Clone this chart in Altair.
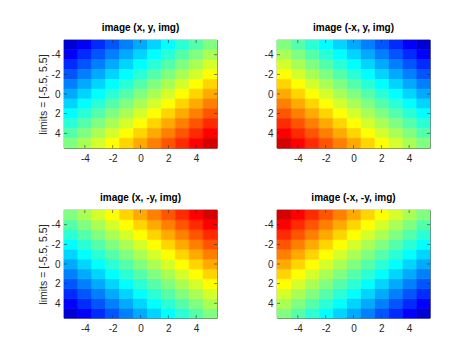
import altair as alt
import pandas as pd

# data (Octave demo: img = 1 ./ hilb (11), x = y = -5:5, colormap jet(21))
xs = [-5, -4, -3, -2, -1, 0, 1, 2, 3, 4, 5]
ys = [-5, -4, -3, -2, -1, 0, 1, 2, 3, 4, 5]
img = [
    [1, 2, 3, 4, 5, 6, 7, 8, 9, 10, 11],
    [2, 3, 4, 5, 6, 7, 8, 9, 10, 11, 12],
    [3, 4, 5, 6, 7, 8, 9, 10, 11, 12, 13],
    [4, 5, 6, 7, 8, 9, 10, 11, 12, 13, 14],
    [5, 6, 7, 8, 9, 10, 11, 12, 13, 14, 15],
    [6, 7, 8, 9, 10, 11, 12, 13, 14, 15, 16],
    [7, 8, 9, 10, 11, 12, 13, 14, 15, 16, 17],
    [8, 9, 10, 11, 12, 13, 14, 15, 16, 17, 18],
    [9, 10, 11, 12, 13, 14, 15, 16, 17, 18, 19],
    [10, 11, 12, 13, 14, 15, 16, 17, 18, 19, 20],
    [11, 12, 13, 14, 15, 16, 17, 18, 19, 20, 21],
]
ticks = [-4, -2, 0, 2, 4]
titles = ["image (x, y, img)", "image (-x, y, img)", "image (x, -y, img)", "image (-x, -y, img)"]
flips = [(1, 1), (-1, 1), (1, -1), (-1, -1)]
ylabels = ["limits = [-5.5, 5.5]", "", "limits = [-5.5, 5.5]", ""]

jet21 = ["#0000d5", "#0000ff", "#002bff", "#0055ff", "#0080ff", "#00aaff", "#00d5ff",
         "#00ffff", "#2bffd5", "#55ffaa", "#80ff80", "#aaff55", "#d5ff2b", "#ffff00",
         "#ffd500", "#ffaa00", "#ff8000", "#ff5500", "#ff2b00", "#ff0000", "#d50000"]

W, H = 153, 108
FONT = "Liberation Sans"
TXT = "#262626"

tick_df = pd.DataFrame({"t": ticks})


def panel(k):
    sx, sy = flips[k]
    rows = []
    for i, yv in enumerate(ys):
        for j, xv in enumerate(xs):
            X = sx * xv
            Y = sy * yv
            rows.append({"x0": X - 0.5, "x1": X + 0.5, "y0": Y - 0.5, "y1": Y + 0.5, "v": img[i][j]})
    df = pd.DataFrame(rows)
    xscale = alt.Scale(domain=[-5.5, 5.5], nice=False, zero=False)
    yscale = alt.Scale(domain=[-5.5, 5.5], nice=False, zero=False, reverse=True)
    common = dict(values=ticks, ticks=False, domain=False, grid=False, labelOverlap=False,
                  labelExpr="'' + datum.value", labelFont=FONT, labelFontSize=10, labelColor=TXT)
    if ylabels[k]:
        yaxis = alt.Axis(title=ylabels[k], titleFont=FONT, titleFontSize=10.5,
                         titleFontWeight="normal", titleColor=TXT, titlePadding=3,
                         labelPadding=4, **common)
    else:
        yaxis = alt.Axis(title=None, labelPadding=4, **common)
    xaxis = alt.Axis(title=None, labelPadding=5, **common)
    cscale = alt.Scale(domain=list(range(1, 22)), range=jet21)
    rect = alt.Chart(df).mark_rect(strokeWidth=0.6).encode(
        x=alt.X("x0:Q", scale=xscale, axis=xaxis),
        x2="x1:Q",
        y=alt.Y("y0:Q", scale=yscale, axis=yaxis),
        y2="y1:Q",
        color=alt.Color("v:O", scale=cscale, legend=None),
        stroke=alt.Stroke("v:O", scale=cscale, legend=None),
    )
    tb = alt.Chart(tick_df).mark_tick(orient="vertical", size=6, color=TXT, thickness=0.8, clip=True)
    tl = alt.Chart(tick_df).mark_tick(orient="horizontal", size=6, color=TXT, thickness=0.8, clip=True)
    t_bottom = tb.encode(x=alt.X("t:Q", scale=xscale, axis=xaxis), y=alt.value(H))
    t_top = tb.encode(x=alt.X("t:Q", scale=xscale, axis=xaxis), y=alt.value(0))
    t_left = tl.encode(y=alt.Y("t:Q", scale=yscale, axis=yaxis), x=alt.value(0))
    t_right = tl.encode(y=alt.Y("t:Q", scale=yscale, axis=yaxis), x=alt.value(W))
    return alt.layer(rect, t_bottom, t_top, t_left, t_right).properties(
        width=W, height=H,
        title=alt.Title(titles[k], font=FONT, fontSize=10, fontWeight="bold", color="#000000", offset=7),
    )


row1 = alt.hconcat(panel(0), panel(1), spacing=60, bounds="flush")
row2 = alt.hconcat(panel(2), panel(3), spacing=60, bounds="flush")
chart = alt.vconcat(row1, row2, spacing=170, bounds="flush").properties(
    padding={"left": 37, "top": 22, "right": 5, "bottom": 5},
    background="white",
).configure_view(stroke=TXT, strokeWidth=0.8)

chart.save("out.html", embed_options={"renderer": "svg", "actions": False})
